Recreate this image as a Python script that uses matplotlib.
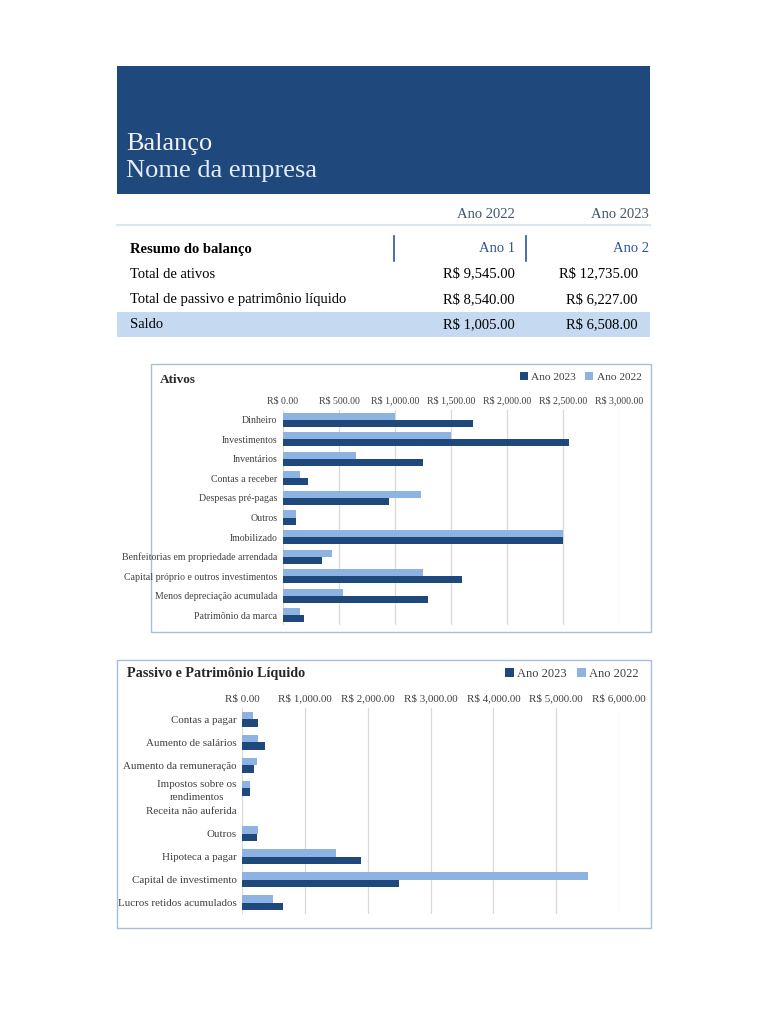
import numpy as np
import matplotlib.pyplot as plt
from matplotlib.patches import Rectangle
from matplotlib.ticker import FuncFormatter, MultipleLocator

# summary table
anos = ['Ano 2022', 'Ano 2023']
anos_num = ['Ano 1', 'Ano 2']
resumo_rotulos = ['Total de ativos', 'Total de passivo e patrimônio líquido', 'Saldo']
resumo_2022 = [9545.00, 8540.00, 1005.00]
resumo_2023 = [12735.00, 6227.00, 6508.00]

# Ativos
ativos_cat = ['Dinheiro', 'Investimentos', 'Inventários', 'Contas a receber',
              'Despesas pré-pagas', 'Outros', 'Imobilizado',
              'Benfeitorias em propriedade arrendada',
              'Capital próprio e outros investimentos',
              'Menos depreciação acumulada', 'Patrimônio da marca']
ativos_2022 = [1000, 1500, 650, 150, 1230, 115, 2500, 440, 1250, 540, 150]
ativos_2023 = [1700, 2550, 1250, 225, 950, 115, 2500, 345, 1600, 1295, 190]

# Passivo e patrimonio
passivo_cat = ['Contas a pagar', 'Aumento de salários', 'Aumento da remuneração',
               'Impostos sobre os\nrendimentos', 'Receita não auferida', 'Outros',
               'Hipoteca a pagar', 'Capital de investimento',
               'Lucros retidos acumulados']
passivo_2022 = [170, 250, 235, 120, 0, 250, 1500, 5500, 500]
passivo_2023 = [250, 360, 185, 120, 0, 235, 1900, 2500, 650]

DARK = '#1F497D'
LIGHT = '#8DB3E2'
SERIF = 'Liberation Serif'

W, H = 768, 1024
fig = plt.figure(figsize=(W / 100, H / 100), dpi=100)
fig.patch.set_facecolor('white')

bg = fig.add_axes([0, 0, 1, 1])
bg.set_xlim(0, W)
bg.set_ylim(H, 0)
bg.axis('off')


def rect(x0, y0, x1, y1):
    return [x0 / W, 1 - y1 / H, (x1 - x0) / W, (y1 - y0) / H]


def money(v):
    return 'R$ {:,.2f}'.format(v)


# header
bg.add_patch(Rectangle((117, 66), 533, 128, facecolor=DARK, edgecolor='none'))
bg.text(126, 144, 'Balanço', fontsize=19, family=SERIF, color='#F2F2F2', va='center')
bg.text(126, 171, 'Nome da empresa', fontsize=19, family=SERIF, color='#E4ECF7', va='center')

# table
FS = 10.5
bg.text(515, 215, anos[0], fontsize=FS, family=SERIF, color='#44546A', ha='right', va='center')
bg.text(649, 215, anos[1], fontsize=FS, family=SERIF, color='#44546A', ha='right', va='center')
bg.plot([117, 650], [225, 225], color='#DCE6F1', lw=1.5)
bg.text(130, 249, 'Resumo do balanço', fontsize=FS, family=SERIF, weight='bold',
        color='black', va='center')
bg.plot([394, 394], [236, 261], color='#2E5597', lw=1.2)
bg.plot([526, 526], [236, 261], color='#2E5597', lw=1.2)
bg.text(515, 249, anos_num[0], fontsize=FS, family=SERIF, color='#2E5597', ha='right', va='center')
bg.text(649, 249, anos_num[1], fontsize=FS, family=SERIF, color='#2E5597', ha='right', va='center')
bg.add_patch(Rectangle((117, 312), 533, 25, facecolor='#C5D9F1', edgecolor='none'))
for i, lab in enumerate(resumo_rotulos):
    y = 274 + i * 25.5
    bg.text(130, y, lab, fontsize=FS, family=SERIF, color='black', va='center')
    bg.text(515, y, money(resumo_2022[i]), fontsize=FS, family=SERIF, color='black',
            ha='right', va='center')
    bg.text(638, y, money(resumo_2023[i]), fontsize=FS, family=SERIF, color='black',
            ha='right', va='center')

# chart boxes
bg.add_patch(Rectangle((151, 364), 500, 268, facecolor='none', edgecolor='#A6BDDB', lw=1))
bg.add_patch(Rectangle((117, 660), 534, 268, facecolor='none', edgecolor='#A6BDDB', lw=1))


def bar_chart(box, cats, v22, v23, xmax, step, h, title, title_xy, title_fs,
              leg_xy, leg_fs, tick_fs):
    ax = fig.add_axes(rect(*box))
    ax.set_facecolor('none')
    y = np.arange(len(cats))
    b23 = ax.barh(y + h / 2, v23, height=h, color=DARK, label='Ano 2023', zorder=3)
    b22 = ax.barh(y - h / 2, v22, height=h, color=LIGHT, label='Ano 2022', zorder=3)
    ax.set_xlim(0, xmax)
    ax.set_ylim(len(cats) - 0.5, -0.5)
    ax.xaxis.set_major_locator(MultipleLocator(step))
    ax.xaxis.set_major_formatter(FuncFormatter(lambda v, p: money(v)))
    ax.xaxis.tick_top()
    ax.grid(axis='x', color='#D9D9D9', lw=0.9, zorder=0)
    ax.set_axisbelow(True)
    for s in ax.spines.values():
        s.set_visible(False)
    ax.tick_params(length=0, labelsize=tick_fs, colors='#404040', pad=5)
    ax.tick_params(axis='y', pad=4)
    ax.set_yticks(y)
    ax.set_yticklabels(cats, family=SERIF, linespacing=1.5, multialignment='center')
    for t in ax.get_xticklabels():
        t.set_family(SERIF)
        t.set_verticalalignment('baseline')
    bg.text(title_xy[0], title_xy[1], title, fontsize=title_fs, family=SERIF, weight='bold',
            color='#262626', va='center')
    ax.legend(handles=[b23, b22], loc='center right', ncol=2, frameon=False,
              bbox_to_anchor=(leg_xy[0] / W, 1 - leg_xy[1] / H),
              bbox_transform=fig.transFigure, prop={'family': SERIF, 'size': leg_fs},
              handlelength=0.7, handleheight=0.7, handletextpad=0.3, columnspacing=0.8,
              labelcolor='#404040', borderaxespad=0)
    return ax


bar_chart((283, 410, 619, 625), ativos_cat, ativos_2022, ativos_2023, 3000, 500, 0.36,
          'Ativos', (160, 380), 9.5, (646, 377), 8.2, 7.1)
bar_chart((242, 708, 619, 914), passivo_cat, passivo_2022, passivo_2023, 6000, 1000, 0.33,
          'Passivo e Patrimônio Líquido', (127, 674), 10.2, (644, 674), 9, 7.9)

fig.savefig('out.png', dpi=100, facecolor='white')
